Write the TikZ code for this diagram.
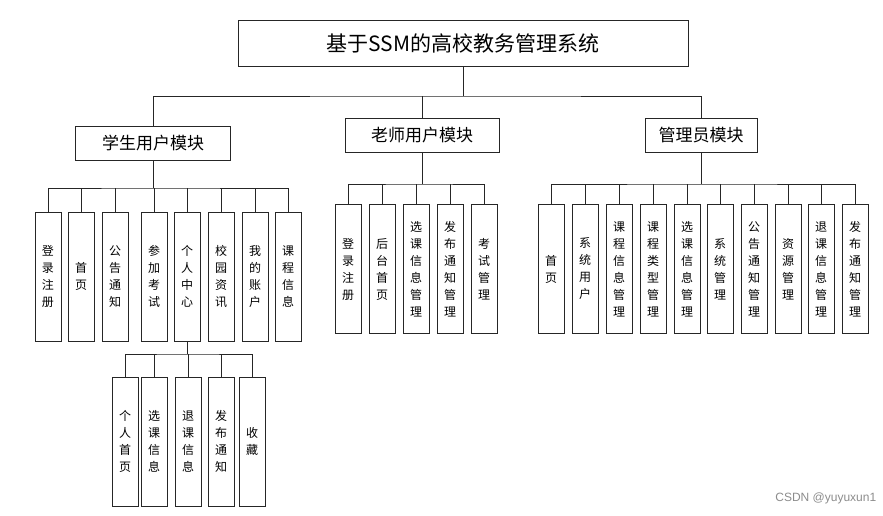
\documentclass[tikz,border=0pt]{standalone}
\usepackage{fontspec}
\setmainfont{Noto Sans CJK SC}
\newfontfamily\wm{Liberation Sans}
\begin{document}
\begin{tikzpicture}[x=1pt,y=-1pt,line width=0.8pt,
  bx/.style={draw=black!85,fill=white},
  leaf/.style={bx,minimum width=26pt,minimum height=129pt,inner sep=0pt,font=\fontsize{12}{17}\selectfont,align=center,text width=14pt},
  mod/.style={bx,minimum height=34pt,font=\fontsize{17}{20}\selectfont},
  ln/.style={draw=black!85}]
\useasboundingbox (0,0) rectangle (883,515);
\node[bx,minimum width=450pt,minimum height=46pt,font=\fontsize{21}{24}\selectfont] (t) at (463,43) {基于SSM的高校教务管理系统};
\node[mod,minimum width=155pt] (s) at (153,143) {学生用户模块};
\node[mod,minimum width=154pt] (te) at (422,135) {老师用户模块};
\node[mod,minimum width=112pt] (a) at (701,135) {管理员模块};
\coordinate (b0) at (463,96);
\draw[ln] (t.south) -- (b0);
\draw[ln] (s.north) |- (b0) -| (a.north);
\draw[ln] (te.north) -- (te.north|-b0);
% student leaves
\foreach \n/\x/\tx in {s1/48/登\\录\\注\\册, s2/81/首\\页, s3/115/公\\告\\通\\知, s4/154/参\\加\\考\\试, s5/187/个\\人\\中\\心, s6/221/校\\园\\资\\讯, s7/255/我\\的\\账\\户, s8/288/课\\程\\信\\息}{
  \node[leaf] (\n) at (\x,276.5) {\tx};
}
\coordinate (sb) at (153,188);
\draw[ln] (s.south) -- (sb);
\draw[ln] (s1.north) |- (sb) -| (s8.north);
\foreach \n in {s2,s3,s4,s5,s6,s7}{\draw[ln] (\n.north) -- (\n.north|-sb);}
% teacher leaves
\foreach \n/\x/\tx in {t1/348/登\\录\\注\\册, t2/382/后\\台\\首\\页, t3/416/选\\课\\信\\息\\管\\理, t4/450/发\\布\\通\\知\\管\\理, t5/484/考\\试\\管\\理}{
  \node[leaf] (\n) at (\x,269) {\tx};
}
\coordinate (tb) at (422,184);
\draw[ln] (te.south) -- (tb);
\draw[ln] (t1.north) |- (tb) -| (t5.north);
\foreach \n in {t2,t3,t4}{\draw[ln] (\n.north) -- (\n.north|-tb);}
% admin leaves
\foreach \n/\x/\tx in {a1/551/首\\页, a2/585/系\\统\\用\\户, a3/619/课\\程\\信\\息\\管\\理, a4/653/课\\程\\类\\型\\管\\理, a5/687/选\\课\\信\\息\\管\\理, a6/720/系\\统\\管\\理, a7/754/公\\告\\通\\知\\管\\理, a8/788/资\\源\\管\\理, a9/821/退\\课\\信\\息\\管\\理, a10/855/发\\布\\通\\知\\管\\理}{
  \node[leaf] (\n) at (\x,269) {\tx};
}
\coordinate (ab) at (701,184);
\draw[ln] (a.south) -- (ab);
\draw[ln] (a1.north) |- (ab) -| (a10.north);
\foreach \n in {a2,a3,a4,a5,a6,a7,a8,a9}{\draw[ln] (\n.north) -- (\n.north|-ab);}
% personal center sub
\foreach \n/\x/\tx in {p1/125/个\\人\\首\\页, p2/154/选\\课\\信\\息, p3/188/退\\课\\信\\息, p4/221/发\\布\\通\\知, p5/252/收\\藏}{
  \node[leaf] (\n) at (\x,441.5) {\tx};
}
\coordinate (pb) at (187,354);
\draw[ln] (s5.south) -- (pb);
\draw[ln] (p1.north) |- (pb) -| (p5.north);
\foreach \n in {p2,p3,p4}{\draw[ln] (\n.north) -- (\n.north|-pb);}
\node[text=black!45,font=\wm\fontsize{12}{14}\selectfont,anchor=east] (w) at (880,498) {CSDN @yuyuxun1};
\end{tikzpicture}
\end{document}
